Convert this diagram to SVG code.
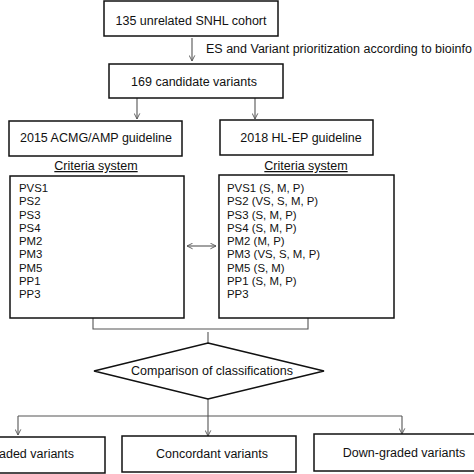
<svg xmlns="http://www.w3.org/2000/svg" width="474" height="474" viewBox="0 0 474 474">
<defs>
<marker id="ah" viewBox="0 0 10 10" refX="9" refY="5" markerWidth="7" markerHeight="7" orient="auto-start-reverse" markerUnits="userSpaceOnUse">
<path d="M1,1 L9,5 L1,9" fill="none" stroke="#555" stroke-width="1.3"/>
</marker>
<style>
.box{fill:#fff;stroke:#111;stroke-width:1.5}
.t{font-family:"Liberation Sans",Arial,sans-serif;font-size:12.5px;fill:#111}
.c{font-family:"Liberation Sans",Arial,sans-serif;font-size:11.4px;fill:#111}
.m{text-anchor:middle}
.con{fill:none;stroke:#555;stroke-width:1.1}
.arr{marker-end:url(#ah)}
</style>
</defs>
<rect width="474" height="474" fill="#fff"/>
<g id="connectors">
<line class="con arr" x1="192" y1="38" x2="192" y2="61"/>
<line class="con arr" x1="137" y1="98" x2="137" y2="119"/>
<line class="con arr" x1="255" y1="98" x2="255" y2="119"/>
<line class="con" x1="187" y1="246" x2="216" y2="246" style="marker-start:url(#ah);marker-end:url(#ah)"/>
<polyline class="con" points="93,318 93,329 308,329 308,318"/>
<line class="con" x1="208" y1="332" x2="208" y2="343"/>
<line class="con" x1="208" y1="399" x2="208" y2="416"/>
<line class="con" x1="18" y1="416" x2="402" y2="416"/>
<line class="con arr" x1="18" y1="416" x2="18" y2="435"/>
<line class="con arr" x1="208" y1="416" x2="208" y2="436"/>
<line class="con arr" x1="402" y1="416" x2="402" y2="434"/>
<text class="t" x="206" y="53">ES and Variant prioritization according to bioinfo</text>
</g>
<g id="cohort">
<rect class="box" x="104" y="1" width="174" height="35"/>
<text class="t m" x="191" y="25">135 unrelated SNHL cohort</text>
</g>
<g id="candidates">
<rect class="box" x="109" y="64" width="174" height="34"/>
<text class="t m" x="194" y="86">169 candidate variants</text>
</g>
<g id="acmg">
<rect class="box" x="9" y="121" width="173" height="35"/>
<text class="t m" x="96" y="142">2015 ACMG/AMP guideline</text>
</g>
<g id="hlep">
<rect class="box" x="220" y="120" width="153" height="35"/>
<text class="t m" x="301" y="142">2018 HL-EP guideline</text>
</g>
<g id="criteria-left">
<text class="t m" x="96" y="170" text-decoration="underline">Criteria system</text>
<rect class="box" x="10" y="176" width="174" height="142"/>
<text class="c" x="19" y="192">PVS1</text>
<text class="c" x="19" y="205.3">PS2</text>
<text class="c" x="19" y="218.5">PS3</text>
<text class="c" x="19" y="231.8">PS4</text>
<text class="c" x="19" y="245">PM2</text>
<text class="c" x="19" y="258.3">PM3</text>
<text class="c" x="19" y="271.5">PM5</text>
<text class="c" x="19" y="284.8">PP1</text>
<text class="c" x="19" y="298">PP3</text>
</g>
<g id="criteria-right">
<text class="t m" x="306" y="170" text-decoration="underline">Criteria system</text>
<rect class="box" x="219" y="175" width="175" height="143"/>
<text class="c" x="227" y="192">PVS1 (S, M, P)</text>
<text class="c" x="227" y="205.3">PS2 (VS, S, M, P)</text>
<text class="c" x="227" y="218.5">PS3 (S, M, P)</text>
<text class="c" x="227" y="231.8">PS4 (S, M, P)</text>
<text class="c" x="227" y="245">PM2 (M, P)</text>
<text class="c" x="227" y="258.3">PM3 (VS, S, M, P)</text>
<text class="c" x="227" y="271.5">PM5 (S, M)</text>
<text class="c" x="227" y="284.8">PP1 (S, M, P)</text>
<text class="c" x="227" y="298">PP3</text>
</g>
<g id="comparison">
<polygon points="208,343 324,371 208,399 94,371" fill="#fff" stroke="#111" stroke-width="1.5"/>
<text class="t m" x="212" y="375">Comparison of classifications</text>
</g>
<g id="upgraded">
<rect class="box" x="-10" y="437" width="115" height="36"/>
<text class="t" x="-1" y="458">aded variants</text>
</g>
<g id="concordant">
<rect class="box" x="122" y="436" width="174" height="36"/>
<text class="t m" x="212" y="458">Concordant variants</text>
</g>
<g id="downgraded">
<rect class="box" x="314" y="434" width="170" height="37"/>
<text class="t m" x="404" y="457">Down-graded variants</text>
</g>
</svg>
